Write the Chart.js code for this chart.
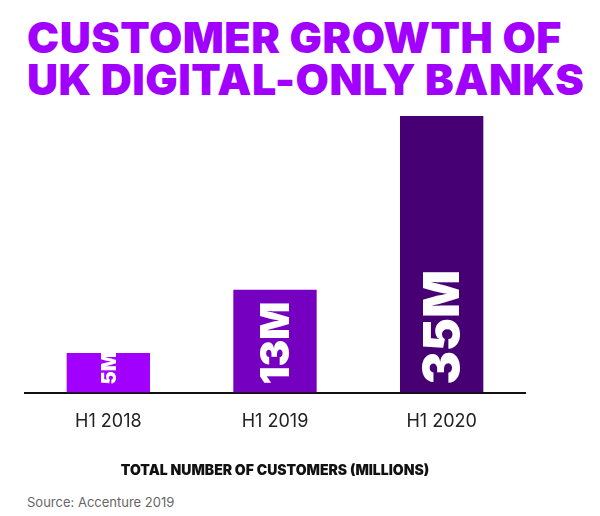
<!DOCTYPE html>
<html><head><meta charset="utf-8">
<script src="https://cdn.jsdelivr.net/npm/chart.js@4"></script>
<style>
body{margin:0;width:600px;height:516px;background:#fff;font-family:"Inter","Liberation Sans",sans-serif;position:relative;overflow:hidden}
#t{position:absolute;left:27px;top:16px;color:#a100ff;font-weight:900;font-size:43px;line-height:42px;letter-spacing:0.5px;font-family:"Inter",sans-serif}
#c{position:absolute;left:0;top:108px}
#src{position:absolute;left:27px;top:494px;font-size:13px;color:#666}
</style></head><body>
<div id="t">CUSTOMER GROWTH OF<br>UK DIGITAL-ONLY BANKS</div>
<div id="c"><canvas id="cv" width="600" height="375"></canvas></div>
<div id="src">Source: Accenture 2019</div>
<script>
const categories=["H1 2018","H1 2019","H1 2020"];
const customers=[5,13,35];
const valueLabels=["5M","13M","35M"];
const barColors=["#a100ff","#7500c0","#460073"];
const axisTitle="TOTAL NUMBER OF CUSTOMERS (MILLIONS)";
const inLabels={id:"inl",afterDatasetsDraw(ch){const c=ch.ctx;ch.getDatasetMeta(0).data.forEach((b,i)=>{c.save();c.translate(b.x,b.base-8);c.rotate(-Math.PI/2);c.fillStyle="#fff";c.font="900 "+(i==2?50:i==1?40:20)+"px Inter, sans-serif";c.textAlign="left";c.textBaseline="middle";c.fillText(valueLabels[i],0,2);c.restore();});}};
new Chart(document.getElementById("cv"),{type:"bar",data:{labels:categories,datasets:[{data:customers,backgroundColor:barColors,barPercentage:0.5,categoryPercentage:1}]},
options:{responsive:false,animation:false,layout:{padding:{left:25,right:75,top:8}},plugins:{legend:{display:false},tooltip:{enabled:false}},
scales:{y:{display:false,min:0,max:35},x:{grid:{display:false,drawTicks:false},border:{color:"#111",width:2},ticks:{color:"#222",font:{size:18,family:"Inter"},padding:18},
title:{display:true,text:axisTitle,color:"#111",font:{size:14,weight:"900",family:"Inter"},padding:{top:12}}}}},plugins:[inLabels]});
</script></body></html>
